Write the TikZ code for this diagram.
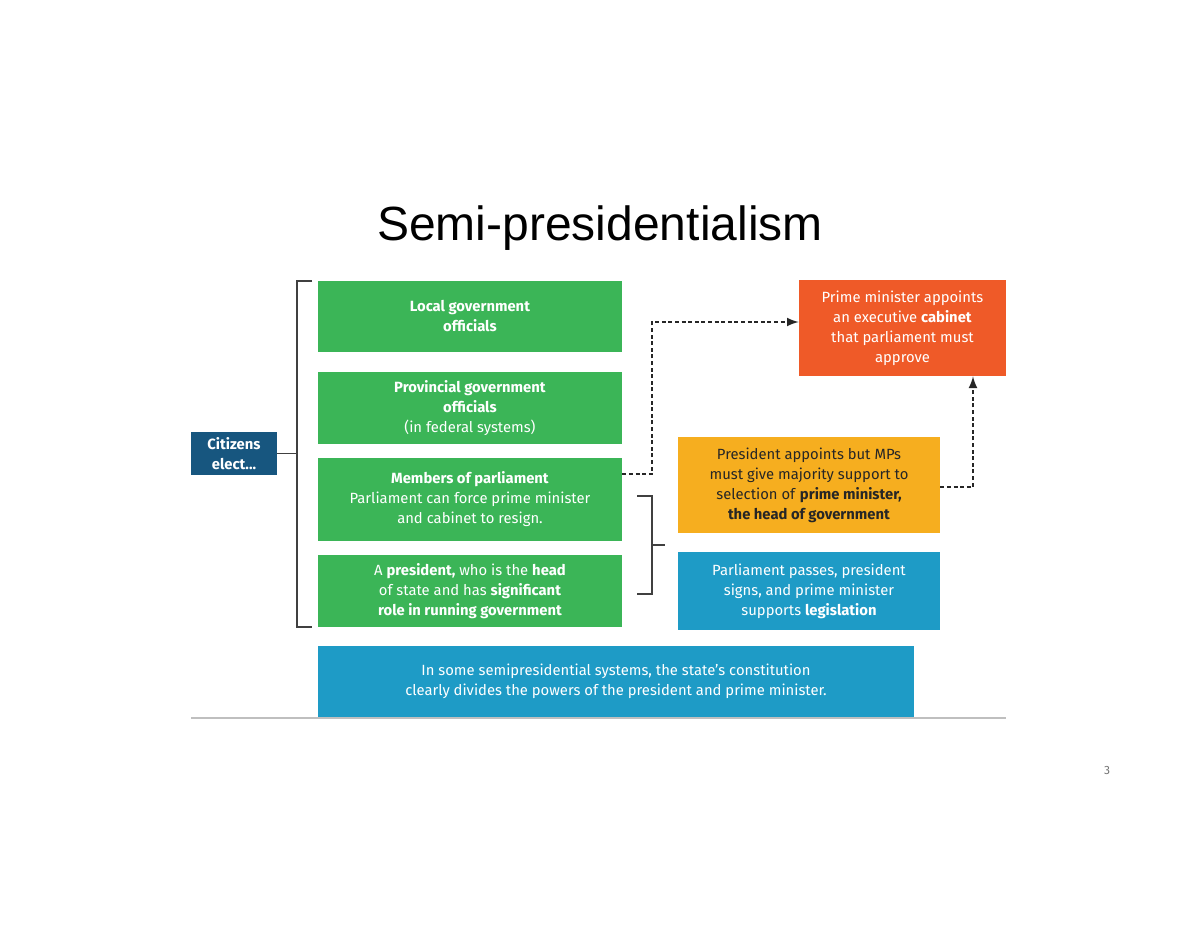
\documentclass[tikz,border=0pt]{standalone}
\usepackage{fontspec}
\setmainfont{Fira Sans}
\newfontfamily\titlefont{Liberation Sans}
\usetikzlibrary{positioning}
\definecolor{grn}{HTML}{3BB557}
\definecolor{org}{HTML}{EF5A28}
\definecolor{ylw}{HTML}{F6AE1F}
\definecolor{blu}{HTML}{1E9BC6}
\definecolor{nvy}{HTML}{17567F}
\tikzset{
  box/.style={draw=none, inner sep=0pt, align=center, font=\fontsize{7.4}{10}\selectfont},
  brk/.style={draw=black!75, line width=0.8pt},
  dsh/.style={draw=black!85, line width=1pt, dash pattern=on 2pt off 1.3pt, -latex}
}
\begin{document}
\begin{tikzpicture}[x=0.5pt, y=-0.5pt]
\useasboundingbox (0,0) rectangle (1200,927);

\node at (600,228) {\titlefont\fontsize{24}{28}\selectfont Semi-presidentialism};

\node[box, fill=nvy, text=white, minimum width=43pt, minimum height=21.5pt] (cit) at (234,453.5) {\textbf{Citizens}\\\textbf{elect...}};

\node[box, fill=grn, text=white, minimum width=152pt, minimum height=35.5pt] (loc) at (470,316.5) {\textbf{Local government}\\\textbf{officials}};
\node[box, fill=grn, text=white, minimum width=152pt, minimum height=36pt] (prov) at (470,408) {\textbf{Provincial government}\\\textbf{officials}\\(in federal systems)};
\node[box, fill=grn, text=white, minimum width=152pt, minimum height=41.5pt] (mps) at (470,499.5) {\textbf{Members of parliament}\\Parliament can force prime minister\\and cabinet to resign.};
\node[box, fill=grn, text=white, minimum width=152pt, minimum height=36pt] (pres) at (470,591) {A \textbf{president,} who is the \textbf{head}\\of state and has \textbf{significant}\\\textbf{role in running government}};

\node[box, fill=org, text=white, minimum width=103.5pt, minimum height=48pt] (pm) at (902.5,328) {Prime minister appoints\\an executive \textbf{cabinet}\\that parliament must\\approve};
\node[box, fill=ylw, text=black!85, minimum width=131pt, minimum height=48pt] (sel) at (809,485) {President appoints but MPs\\must give majority support to\\selection of \textbf{prime minister,}\\\textbf{the head of government}};
\node[box, fill=blu, text=white, minimum width=131pt, minimum height=39pt] (leg) at (809,591) {Parliament passes, president\\signs, and prime minister\\supports \textbf{legislation}};
\node[box, fill=blu, text=white, minimum width=298pt, minimum height=35.5pt] (note) at (616,681.5) {In some semipresidential systems, the state's constitution\\clearly divides the powers of the president and prime minister.};

\draw[black!25, line width=0.6pt] (191,718) -- (1006,718);
\node[text=black!55, font=\fontsize{6}{7}\selectfont] (pg) at (1107,770) {3};

% brackets
\draw[brk] (312,281) -- (297,281) -- (297,627) -- (312,627);
\draw[brk] (cit.east) -- (297,453.5);
\draw[brk] (637,496) -- (652,496) -- (652,594) -- (637,594);
\draw[brk] (652,545) -- (665,545);

% dashed links
\draw[dsh] (mps.east |- 0,474) -| (652,322) -- (pm.west |- 0,322);
\draw[dsh] (sel.east |- 0,487) -| (pm.south -| 973,0);
\end{tikzpicture}
\end{document}
